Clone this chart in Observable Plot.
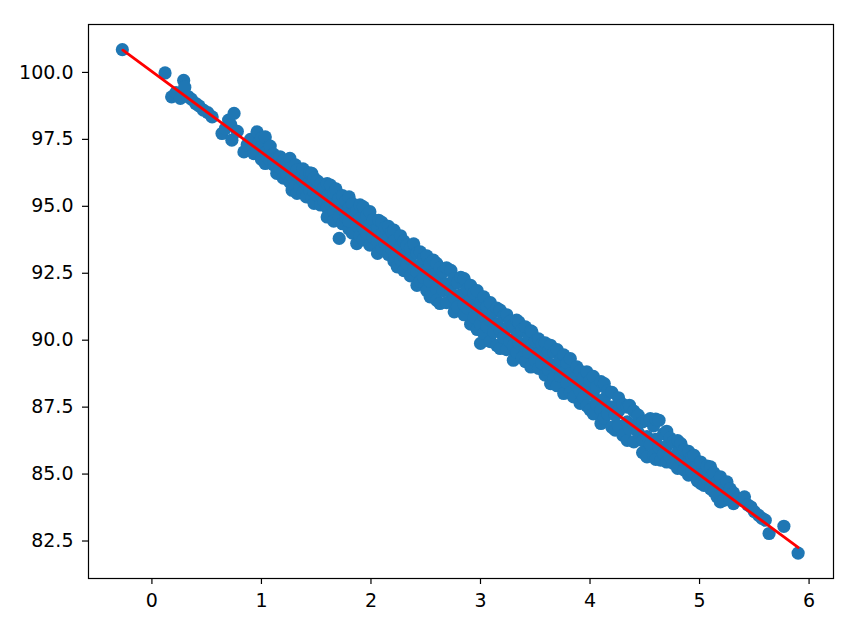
<!DOCTYPE html>
<html>
<head>
<meta charset="utf-8">
<script src="https://cdn.jsdelivr.net/npm/d3@7"></script>
<script src="https://cdn.jsdelivr.net/npm/@observablehq/plot@0.6"></script>
<style>
  html, body { margin: 0; padding: 0; background: #fff; }
  #chart { width: 867px; height: 624px; }
</style>
</head>
<body>
<div id="chart"></div>
<script>
// Scatter samples [x, y]
const pointsLeft = [
  [-0.27,100.85],[0.12,99.98],[0.18,99.09],[0.22,99.25],[0.26,99.03],[0.29,99.70],[0.30,99.45],
  [0.33,99.10],[0.36,99.00],[0.40,98.84],[0.43,98.75],[0.47,98.59],[0.51,98.50],[0.55,98.34],
  [0.64,97.72],[0.67,97.90],[0.70,98.22],[0.72,98.05],[0.73,97.47],[0.75,98.47],[0.78,97.80],
  [0.84,97.03],[0.87,97.30],[0.90,97.50],[0.93,96.97],[0.96,97.78],[0.98,97.40],
  [1.00,97.55],[1.00,97.20],[1.00,96.75],[1.035,97.59],[1.035,96.60],[1.035,97.00],
  [1.05,97.03],[1.05,96.85],[1.08,97.25],[1.08,96.70],[1.11,96.95],[1.11,96.55],[1.11,96.75],
  [1.14,96.79],[1.14,96.23],[1.14,96.50],[1.17,96.85],[1.17,96.45],[1.20,96.70],[1.20,96.30],[1.20,96.05],
  [1.23,96.60],[1.23,96.20],[1.26,96.79],[1.26,96.40],[1.26,95.90],[1.28,95.60],[1.28,96.10],
  [1.31,96.55],[1.31,96.20],[1.31,95.75],[1.325,96.35],[1.325,95.48],[1.35,96.05],[1.35,95.70],
  [1.38,96.40],[1.38,95.95],[1.38,95.50],[1.41,96.20],[1.41,95.80],[1.41,95.35],[1.44,96.25],[1.44,95.60],
  [1.46,96.23],[1.46,95.85],[1.46,95.30],[1.48,95.11],[1.48,95.55],[1.48,96.05],[1.51,95.95],[1.51,95.40],
  [1.54,95.85],[1.54,95.45],[1.54,95.05],[1.57,95.70],[1.57,95.20],
  [1.60,95.85],[1.60,95.35],[1.60,94.95],[1.60,94.60],[1.63,95.79],[1.63,95.10],
  [1.66,95.50],[1.66,94.80],[1.66,94.45],[1.68,95.65],[1.68,95.05],[1.71,93.80],[1.71,94.60],[1.71,95.30],
  [1.74,95.40],[1.74,94.90],[1.74,94.35],[1.77,95.20],[1.77,94.60],
  [1.80,95.35],[1.80,94.95],[1.80,94.15],[1.80,94.45],[1.83,95.10],[1.83,94.70],[1.83,94.00],
  [1.87,93.61],[1.87,94.30],[1.87,94.85],[1.90,95.05],[1.90,94.55],[1.90,93.90],
  [1.93,94.98],[1.93,94.20],[1.93,93.75],[1.96,94.65],[1.96,94.00],[1.99,94.80],[1.99,94.30],[1.99,93.55]
];
const pointsMiddle = [
  [2.02,94.50],[2.02,93.85],[2.06,93.24],[2.06,93.70],[2.06,94.20],[2.07,94.48],
  [2.10,94.40],[2.10,93.95],[2.10,93.45],[2.13,94.20],[2.13,93.60],[2.16,94.25],[2.16,93.80],[2.16,93.20],
  [2.19,94.05],[2.19,93.40],[2.21,94.11],[2.21,93.70],[2.21,92.95],[2.24,92.74],[2.24,93.25],
  [2.27,93.90],[2.27,93.50],[2.27,93.00],[2.30,93.70],[2.30,92.60],[2.30,93.15],[2.33,93.55],[2.33,92.85],
  [2.36,93.45],[2.36,93.05],[2.36,92.40],[2.39,93.60],[2.39,92.65],[2.42,92.05],[2.42,92.55],[2.42,93.25],
  [2.45,93.30],[2.45,92.80],[2.45,92.20],[2.48,93.05],[2.48,92.35],[2.51,93.15],[2.51,92.60],[2.51,91.85],
  [2.54,91.62],[2.54,92.20],[2.54,92.85],[2.57,92.99],[2.57,92.45],[2.60,92.87],[2.60,91.90],[2.60,91.49],
  [2.63,91.37],[2.63,92.25],[2.63,92.70],[2.66,92.55],[2.66,91.85],[2.69,92.70],[2.69,92.10],[2.69,91.40],
  [2.73,92.61],[2.73,91.80],[2.76,91.06],[2.76,91.60],[2.76,92.30],[2.79,91.24],[2.79,92.15],
  [2.82,92.35],[2.82,91.70],[2.85,92.30],[2.85,91.35],[2.85,90.95],[2.88,91.90],[2.88,91.20],
  [2.91,92.05],[2.91,91.50],[2.91,90.60],[2.94,91.75],[2.94,90.85],[2.97,91.85],[2.97,91.20],[2.97,90.40],
  [3.00,89.88],[3.00,90.60],[3.00,91.40],[3.03,91.62],[3.03,90.90],[3.03,90.25],[3.06,91.25],[3.06,90.50],
  [3.09,91.40],[3.09,90.75],[3.09,89.95],[3.12,91.05],[3.12,90.30],[3.15,91.20],[3.15,90.60],[3.15,89.80],
  [3.18,91.12],[3.18,89.69],[3.18,90.35],[3.21,90.90],[3.21,90.10],[3.24,90.95],[3.24,90.45],[3.24,89.65],
  [3.27,90.70],[3.27,89.95],[3.30,89.25],[3.30,89.80],[3.30,90.55],[3.33,90.75],[3.33,90.20],[3.33,89.55],
  [3.35,90.68],[3.35,89.90],[3.38,90.40],[3.38,89.35],[3.41,90.50],[3.41,89.75],[3.41,89.20],
  [3.44,90.15],[3.44,89.55],[3.46,89.00],[3.46,90.35],[3.47,90.31],[3.47,89.80],[3.50,89.95],[3.50,89.25],
  [3.53,90.05],[3.53,89.50],[3.53,88.95],[3.56,89.85],[3.56,89.15],[3.59,89.90],[3.59,89.35],[3.59,88.70],
  [3.62,89.60],[3.62,88.90],[3.64,89.81],[3.64,88.38],[3.64,89.10],[3.67,89.55],[3.67,88.60],
  [3.70,89.65],[3.70,89.00],[3.70,88.30],[3.73,89.25],[3.73,88.65],[3.76,88.01],[3.76,88.80],[3.76,89.45],
  [3.79,89.15],[3.79,88.40],[3.82,89.31],[3.82,88.75],[3.82,88.05],[3.85,87.88],[3.85,88.55],
  [3.88,89.00],[3.88,88.30],[3.91,87.64],[3.91,88.10],[3.91,88.85],[3.94,88.60],[3.94,87.85],
  [3.97,88.82],[3.97,88.20],[3.97,87.55]
];
const pointsRight = [
  [4.00,88.50],[4.00,87.40],[4.03,88.65],[4.03,87.95],[4.03,87.25],[4.06,88.25],[4.06,87.60],
  [4.10,86.89],[4.10,87.40],[4.10,88.45],[4.13,88.38],[4.13,87.80],[4.13,87.10],[4.16,88.10],[4.16,87.25],
  [4.20,88.05],[4.20,87.50],[4.20,86.75],[4.23,86.64],[4.23,87.20],[4.26,87.85],[4.26,87.35],[4.26,86.80],
  [4.30,87.60],[4.30,86.45],[4.34,86.26],[4.34,86.95],[4.34,87.50],[4.36,87.57],[4.36,86.70],
  [4.40,87.35],[4.40,86.85],[4.40,86.20],[4.44,87.20],[4.44,86.55],[4.48,86.95],[4.48,86.25],[4.48,85.80],
  [4.52,85.64],[4.52,86.40],[4.52,87.00],[4.55,87.07],[4.55,86.10],[4.58,86.80],[4.58,85.70],
  [4.60,87.05],[4.60,86.30],[4.60,85.55],[4.63,87.01],[4.63,86.00],[4.645,85.52],[4.67,86.50],[4.67,85.75],
  [4.70,86.60],[4.70,86.05],[4.70,85.45],[4.73,86.35],[4.73,85.65],[4.76,86.20],[4.76,85.40],
  [4.80,85.21],[4.80,85.80],[4.80,86.25],[4.83,86.14],[4.83,85.55],[4.86,85.90],[4.86,85.15],
  [4.90,84.96],[4.90,85.45],[4.90,85.85],[4.93,85.65],[4.93,85.10],[4.95,85.70],[4.98,85.30],[4.98,84.75],
  [5.01,85.45],[5.01,84.65],[5.04,84.58],[5.04,85.00],[5.07,85.30],[5.07,84.80],[5.10,85.27],[5.10,84.45],
  [5.13,85.05],[5.13,84.35],[5.16,84.70],[5.16,84.15],[5.19,83.96],[5.19,84.90],[5.22,84.02],[5.22,84.60],
  [5.25,84.71],[5.25,84.30],[5.28,84.45],[5.28,84.05],[5.31,83.90],[5.31,84.30],[5.35,84.10],[5.39,84.02],
  [5.41,84.15],[5.44,83.85],[5.47,83.77],[5.50,83.60],[5.54,83.46],[5.57,83.35],[5.60,83.28],
  [5.635,82.78],[5.77,83.05],[5.90,82.05]
];
// Fitted line end points
const fitX = [-0.265, 5.90];
const fitY = [100.83, 82.26];
// Axis ticks
const xTicks = [0, 1, 2, 3, 4, 5, 6];
const yTicks = [82.5, 85.0, 87.5, 90.0, 92.5, 95.0, 97.5, 100.0];

const points = [...pointsLeft, ...pointsMiddle, ...pointsRight].map(([x, y]) => ({x, y}));
const fit = fitX.map((x, i) => ({x, y: fitY[i]}));

const chart = Plot.plot({
  width: 867,
  height: 624,
  marginLeft: 88,
  marginRight: 34,
  marginTop: 24,
  marginBottom: 46,
  style: {fontFamily: "DejaVu Sans", fontSize: "19px", color: "#000", background: "#fff"},
  x: {domain: [-0.579, 6.223], label: null},
  y: {domain: [81.10, 101.79], label: null},
  marks: [
    Plot.dot(points, {x: "x", y: "y", r: 6.6, fill: "#1f77b4", stroke: "none"}),
    Plot.line(fit, {x: "x", y: "y", stroke: "red", strokeWidth: 2.8}),
    Plot.frame({stroke: "#000", strokeWidth: 1.2}),
    Plot.axisX({ticks: xTicks, tickFormat: d => String(d), tickSize: 6, tickPadding: 9, strokeWidth: 1.2, fontSize: 19, label: null}),
    Plot.axisY({ticks: yTicks, tickFormat: d3.format(".1f"), tickSize: 6, tickPadding: 9, strokeWidth: 1.2, fontSize: 19, label: null})
  ]
});
document.getElementById("chart").appendChild(chart);
</script>
</body>
</html>
